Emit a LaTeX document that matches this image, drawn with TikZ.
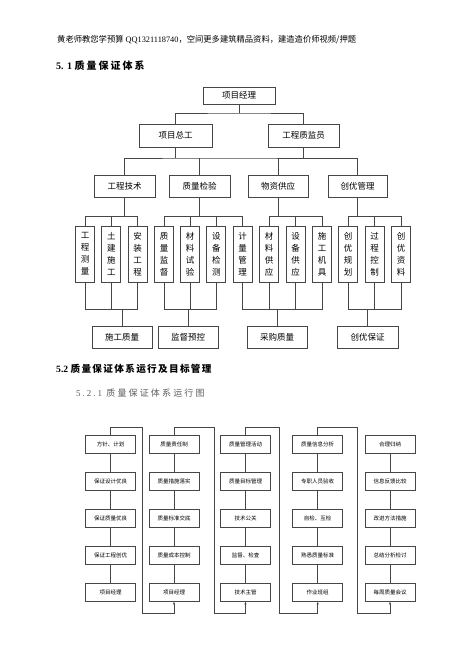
\documentclass[tikz,border=0pt]{standalone}
\usepackage{fontspec}
\setmainfont{Liberation Serif}
\newfontfamily\cjk{Noto Sans CJK SC}
\newfontfamily\cjksp{Noto Sans CJK SC}[LetterSpace=20]
\newfontfamily\cjkmid{Noto Sans CJK SC}[LetterSpace=14]
\newfontfamily\cjkwide{Noto Sans CJK SC}[LetterSpace=24]
\newfontfamily\serwide{Liberation Serif}[LetterSpace=22]
\usetikzlibrary{arrows.meta, positioning}
\definecolor{linegray}{RGB}{70,70,70}
\definecolor{subgray}{RGB}{95,95,95}

\begin{document}
\begin{tikzpicture}[
    x=1pt, y=-1pt,
    every node/.style={font=\cjk\fontsize{8.5}{10}\selectfont},
    heading/.style={
        anchor=west,
        inner sep=0pt
    },
    orgbox/.style={
        rectangle,
        draw=linegray,
        line width=0.7pt,
        inner sep=0pt,
        minimum height=22pt
    },
    colbox/.style={
        rectangle,
        draw=linegray,
        line width=0.7pt,
        inner sep=0pt,
        minimum width=19pt,
        minimum height=56pt,
        align=center,
        font=\cjk\fontsize{8.5}{12}\selectfont
    },
    runbox/.style={
        rectangle,
        draw=linegray,
        line width=0.6pt,
        inner sep=0pt,
        minimum width=50pt,
        minimum height=18pt,
        font=\cjk\fontsize{5.5}{6}\selectfont
    },
    link/.style={
        draw=linegray,
        line width=0.7pt
    },
    runarrow/.style={
        draw=linegray,
        line width=0.6pt,
        -{Latex[length=3pt, width=2.2pt]}
    }
]

\fill[white] (0,0) rectangle (474,669);
\useasboundingbox (0,0) rectangle (474,669);

% ==================== HEADINGS ====================

\node (note) [heading, font=\fontsize{8.3}{10}\selectfont] at (57,40) {{\cjk 黄老师教您学预算} QQ1321118740{\cjk ，空间更多建筑精品资料，建造造价师视频/押题}};
\node (title1) [heading, font=\bfseries\fontsize{10}{12}\selectfont] at (56,66) {5. 1 {\cjksp 质量保证体系}};
\node (title2) [heading, font=\bfseries\fontsize{9.6}{12}\selectfont] at (56,369) {5.2 {\cjkmid 质量保证体系运行及目标管理}};
\node (title3) [heading, text=subgray, font=\fontsize{9}{11}\selectfont] at (76,393) {{\serwide 5.2.1 }{\cjkwide 质量保证体系运行图}};

% ==================== 5.1 ORGANISATION CHART ====================

\node (pm) [orgbox, minimum width=72pt, minimum height=17pt] at (239,95.5) {项目经理};
\node (chief) [orgbox, minimum width=73pt, minimum height=23pt] at (175.5,135.5) {项目总工};
\node (qsup) [orgbox, minimum width=71pt, minimum height=23pt] at (303.5,135.5) {工程质监员};

\node (tech) [orgbox, minimum width=61pt] at (124.5,186) {工程技术};
\node (insp) [orgbox, minimum width=61pt] at (199.5,186) {质量检验};
\node (supply) [orgbox, minimum width=60pt] at (278,186) {物资供应};
\node (excel) [orgbox, minimum width=59pt] at (357.5,186) {创优管理};

\foreach \nm/\cx/\ka/\kb/\kc/\kd in {
    t1/85/工/程/测/量, t2/111.3/土/建/施/工, t3/137.5/安/装/工/程,
    t4/164/质/量/监/督, t5/190/材/料/试/验, t6/216.3/设/备/检/测,
    t7/242.5/计/量/管/理, t8/269/材/料/供/应, t9/295.5/设/备/供/应,
    t10/322/施/工/机/具, t11/348/创/优/规/划, t12/374.5/过/程/控/制,
    t13/401/创/优/资/料}
    \node (\nm) [colbox] at (\cx,254) {\ka\\\kb\\\kc\\\kd};

\node (sgzl) [orgbox, minimum width=60pt] at (122,337) {施工质量};
\node (jdyk) [orgbox, minimum width=60pt] at (188,337) {监督预控};
\node (cgzl) [orgbox, minimum width=60pt] at (277,337) {采购质量};
\node (cybz) [orgbox, minimum width=61pt] at (367.5,337) {创优保证};

\coordinate (bus1) at (0,113);
\coordinate (bus2) at (0,158);
\coordinate (bus3) at (0,216);
\coordinate (bus4) at (0,309);

% Connections top levels
\draw [link] (pm.south) -- (pm.south |- bus1);
\draw [link] (chief.north) |- (pm.south |- bus1) -| (qsup.north);
\draw [link] (chief.south) -- (chief.south |- bus2);
\draw [link] (qsup.south) -- (qsup.south |- bus2);
\draw [link] (tech.north) |- (insp.north |- bus2) -| (excel.north);
\draw [link] (insp.north) -- (insp.north |- bus2);
\draw [link] (supply.north) -- (supply.north |- bus2);

% Connections to the columns
\foreach \up/\first/\last in {tech/t1/t3, insp/t4/t7, supply/t8/t10, excel/t11/t13} {
    \draw [link] (\up.south) -- (\up.south |- bus3);
    \draw [link] (\first.north) |- (\last.north |- bus3) -- (\last.north);
}
\foreach \nm in {t2, t5, t6, t9, t12}
    \draw [link] (\nm.north) -- (\nm.north |- bus3);

% Connections to the results
\foreach \dn/\first/\last in {sgzl/t1/t3, jdyk/t4/t6, cgzl/t7/t10, cybz/t11/t13} {
    \draw [link] (\first.south) |- (\last.south |- bus4) -- (\last.south);
    \draw [link] (\dn.north) -- (\dn.north |- bus4);
}
\foreach \nm in {t2, t5, t8, t9, t12}
    \draw [link] (\nm.south) -- (\nm.south |- bus4);

% ==================== 5.2.1 RUNNING CHART ====================

\foreach \ci/\cx/\ka/\kb/\kc/\kd/\ke in {
    1/110.5/方针、计划/保证设计优良/保证质量优良/保证工程创优/项目经理,
    2/174/质量责任制/质量措施落实/质量标准交底/质量成本控制/项目经理,
    3/245.5/质量管理活动/质量目标管理/技术公关/监督、检查/技术主管,
    4/317.7/质量信息分析/专职人员验收/自检、互检/熟悉质量标准/作业班组,
    5/390/合理归纳/信息反馈比较/改进方法措施/总结分析检讨/每周质量会议} {
    \node (c\ci r1) [runbox] at (\cx,444) {\ka};
    \node (c\ci r2) [runbox] at (\cx,481) {\kb};
    \node (c\ci r3) [runbox] at (\cx,518) {\kc};
    \node (c\ci r4) [runbox] at (\cx,555) {\kd};
    \node (c\ci r5) [runbox] at (\cx,592) {\ke};
    \foreach \ri/\rj in {1/2, 2/3, 3/4, 4/5}
        \draw [link, line width=0.6pt] (c\ci r\ri) -- (c\ci r\rj);
}

% Hand-over from one column to the next
\foreach \ci/\cj/\gx in {1/2/142.7, 2/3/214.3, 3/4/279, 4/5/357.7}
    \draw [runarrow] (c\ci r1.north) |- (\gx,427) -- (\gx,613) -| (c\cj r5.south);

\end{tikzpicture}
\end{document}
